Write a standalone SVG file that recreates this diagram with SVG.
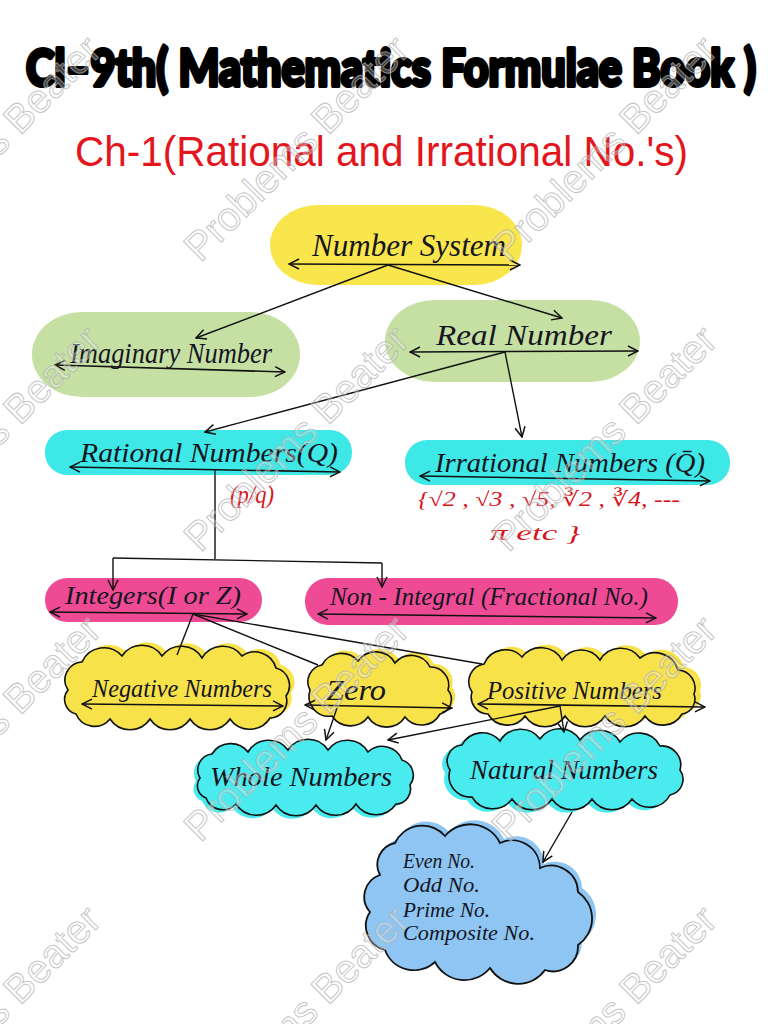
<svg xmlns="http://www.w3.org/2000/svg" xmlns:xlink="http://www.w3.org/1999/xlink" width="768" height="1024" viewBox="0 0 768 1024">
<style>
.hw{font-family:"Liberation Serif","DejaVu Serif",serif;font-style:italic;fill:#15151f;}
.red{font-family:"Liberation Serif","DejaVu Serif",serif;font-style:italic;fill:#d8141c;}
.ul{stroke:#111;stroke-width:1.6;fill:none;marker-start:url(#ah);marker-end:url(#ah);}
.con{stroke:#111;stroke-width:1.4;fill:none;}
.arr{marker-end:url(#ah);}
.cy{fill:#f8e24a;stroke:#111;stroke-width:1.6;}
.cybg{fill:#f8e24a;}
.cc{fill:#4aebee;stroke:#111;stroke-width:1.6;}
.ccbg{fill:#4aebee;}
.cb{fill:#8ec5f3;stroke:#111;stroke-width:1.8;}
.cbbg{fill:#8ec5f3;}
.wm{font-family:"Liberation Sans",Arial,sans-serif;font-size:40px;fill:#ffffff;fill-opacity:0.35;stroke:#b4b4b4;stroke-width:1;text-anchor:middle;opacity:0.75;}
</style>
<defs>
<marker id="ah" viewBox="0 0 12 12" refX="11" refY="6" markerWidth="12" markerHeight="12" markerUnits="userSpaceOnUse" orient="auto-start-reverse">
<path d="M1,1 L11,6 L1,11" fill="none" stroke="#111" stroke-width="1.5"/>
</marker>
<path id="c-neg" d="M 68 690 A 18 18 0 0 1 82 662 A 24 24 0 0 1 122 656 A 24 24 0 0 1 162 656 A 24 24 0 0 1 202 658 A 24 24 0 0 1 242 656 A 22 22 0 0 1 276 668 A 18 18 0 0 1 286 696 A 17 17 0 0 1 270 718 A 24 24 0 0 1 230 719 A 24 24 0 0 1 190 719 A 24 24 0 0 1 150 719 A 24 24 0 0 1 110 719 A 20 20 0 0 1 76 714 A 15 15 0 0 1 68 690 Z"/>
<path id="c-zero" d="M 310 690 A 17 17 0 0 1 322 665 A 22 22 0 0 1 358 661 A 22 22 0 0 1 395 663 A 21 21 0 0 1 430 667 A 18 18 0 0 1 448 690 A 15 15 0 0 1 440 714 A 21 21 0 0 1 405 717 A 22 22 0 0 1 368 717 A 22 22 0 0 1 332 716 A 20 20 0 0 1 310 690 Z"/>
<path id="c-pos" d="M 472 692 A 18 18 0 0 1 484 664 A 23 23 0 0 1 522 657 A 24 24 0 0 1 562 660 A 23 23 0 0 1 600 660 A 24 24 0 0 1 640 658 A 24 24 0 0 1 678 670 A 18 18 0 0 1 694 694 A 15 15 0 0 1 682 714 A 22 22 0 0 1 645 716 A 24 24 0 0 1 605 716 A 24 24 0 0 1 565 716 A 24 24 0 0 1 525 716 A 22 22 0 0 1 488 714 A 17 17 0 0 1 472 692 Z"/>
<path id="c-whole" d="M 200 778 A 16 16 0 0 1 212 754 A 22 22 0 0 1 248 752 A 24 24 0 0 1 288 750 A 24 24 0 0 1 328 750 A 24 24 0 0 1 368 752 A 21 21 0 0 1 402 760 A 16 16 0 0 1 410 785 A 15 15 0 0 1 396 804 A 24 24 0 0 1 356 804 A 24 24 0 0 1 316 805 A 24 24 0 0 1 276 805 A 24 24 0 0 1 236 804 A 18 18 0 0 1 206 798 A 13 13 0 0 1 200 778 Z"/>
<path id="c-nat" d="M 450 770 A 16 16 0 0 1 462 745 A 23 23 0 0 1 500 741 A 24 24 0 0 1 540 739 A 24 24 0 0 1 580 740 A 24 24 0 0 1 620 742 A 24 24 0 0 1 660 746 A 19 19 0 0 1 680 770 A 16 16 0 0 1 670 795 A 23 23 0 0 1 632 799 A 24 24 0 0 1 592 799 A 24 24 0 0 1 552 799 A 24 24 0 0 1 512 799 A 24 24 0 0 1 472 797 A 21 21 0 0 1 450 770 Z"/>
<path id="c-blue" d="M 380 875 A 22 22 0 0 1 395 843 A 30 30 0 0 1 445 836 A 33 33 0 0 1 500 843 A 28 28 0 0 1 540 868 A 27 27 0 0 1 578 892 A 32 32 0 0 1 578 945 A 25 25 0 0 1 545 970 A 33 33 0 0 1 490 968 A 33 33 0 0 1 435 962 A 31 31 0 0 1 385 950 A 25 25 0 0 1 370 912 A 23 23 0 0 1 380 875 Z"/>
</defs>
<rect width="768" height="1024" fill="#ffffff"/>

<g id="title">
<text x="26" y="86" textLength="730" lengthAdjust="spacingAndGlyphs" font-family="Lato,'DejaVu Sans',sans-serif" font-weight="900" font-size="52" fill="#000" stroke="#000" stroke-width="4" stroke-linejoin="round">Cl–9th( Mathematics Formulae Book )</text>
</g>
<g id="subtitle">
<text x="75" y="166" textLength="613" lengthAdjust="spacingAndGlyphs" font-family="'Liberation Sans',Arial,sans-serif" font-size="42" fill="#e3161d">Ch-1(Rational and Irrational No.'s)</text>
</g>

<g id="n-number-system">
<rect x="270" y="205" width="252" height="80" rx="48" ry="40" fill="#f9e54c"/>
<text class="hw" x="312" y="256" font-size="31" textLength="194" lengthAdjust="spacingAndGlyphs">Number System</text>
<line class="ul" x1="289" y1="264" x2="520" y2="265"/>
</g>

<g id="n-imaginary">
<rect x="32" y="312" width="268" height="85" rx="50" ry="42" fill="#c6e0a4"/>
<text class="hw" x="70" y="363" font-size="30" textLength="202" lengthAdjust="spacingAndGlyphs">Imaginary Number</text>
<line class="ul" x1="55" y1="365" x2="285" y2="372"/>
</g>

<g id="n-real">
<rect x="385" y="300" width="255" height="82" rx="50" ry="41" fill="#c6e0a4"/>
<text class="hw" x="436" y="345" font-size="29" textLength="176" lengthAdjust="spacingAndGlyphs">Real  Number</text>
<line class="ul" x1="410" y1="352" x2="638" y2="351"/>
</g>

<g id="n-rational">
<rect x="45" y="430" width="307" height="45" rx="22" fill="#3ee8e6"/>
<text class="hw" x="80" y="462" font-size="27" textLength="258" lengthAdjust="spacingAndGlyphs">Rational Numbers(Q)</text>
<line class="ul" x1="70" y1="467" x2="340" y2="472"/>
<text class="red" x="230" y="503" font-size="26" textLength="44" lengthAdjust="spacingAndGlyphs">(p/q)</text>
</g>

<g id="n-irrational">
<rect x="405" y="440" width="325" height="45" rx="22" fill="#3ee8e6"/>
<text class="hw" x="435" y="472" font-size="27" textLength="270" lengthAdjust="spacingAndGlyphs">Irrational Numbers (Q̄)</text>
<line class="ul" x1="420" y1="476" x2="710" y2="481"/>
<text class="red" x="418" y="506" font-size="20" textLength="262" lengthAdjust="spacingAndGlyphs">{√2 , √3 , √5, ∛2 , ∛4, ---</text>
<text class="red" x="490" y="540" font-size="20" textLength="90" lengthAdjust="spacingAndGlyphs">π  etc }</text>
</g>

<g id="n-integers">
<rect x="45" y="578" width="217" height="44" rx="22" fill="#ef4b95"/>
<text class="hw" x="65" y="604" font-size="26" textLength="176" lengthAdjust="spacingAndGlyphs">Integers(I or Z)</text>
<line class="ul" x1="50" y1="612" x2="247" y2="614"/>
</g>

<g id="n-nonintegral">
<rect x="305" y="578" width="373" height="47" rx="23" fill="#ef4b95"/>
<text class="hw" x="330" y="605" font-size="25" textLength="318" lengthAdjust="spacingAndGlyphs">Non - Integral (Fractional No.)</text>
<line class="ul" x1="318" y1="614" x2="656" y2="618"/>
</g>

<g id="n-negative">
<use href="#c-neg" xlink:href="#c-neg" class="cybg" transform="translate(5,-3)"/>
<use href="#c-neg" xlink:href="#c-neg" class="cy"/>
<text class="hw" x="92" y="697" font-size="26" textLength="180" lengthAdjust="spacingAndGlyphs">Negative Numbers</text>
<line class="ul" x1="82" y1="704" x2="283" y2="706"/>
</g>

<g id="n-zero">
<use href="#c-zero" xlink:href="#c-zero" class="cybg" transform="translate(4,-3)"/>
<use href="#c-zero" xlink:href="#c-zero" class="cy"/>
<text class="hw" x="326" y="700" font-size="29" textLength="60" lengthAdjust="spacingAndGlyphs">Zero</text>
<line class="ul" x1="305" y1="705" x2="452" y2="708"/>
</g>

<g id="n-positive">
<use href="#c-pos" xlink:href="#c-pos" class="cybg" transform="translate(6,-3)"/>
<use href="#c-pos" xlink:href="#c-pos" class="cy"/>
<text class="hw" x="487" y="699" font-size="26" textLength="175" lengthAdjust="spacingAndGlyphs">Positive Numbers</text>
<line class="ul" x1="478" y1="704" x2="705" y2="707"/>
</g>

<g id="n-whole">
<use href="#c-whole" xlink:href="#c-whole" class="ccbg" transform="translate(-4,3)"/>
<use href="#c-whole" xlink:href="#c-whole" class="cc"/>
<text class="hw" x="210" y="786" font-size="27" textLength="182" lengthAdjust="spacingAndGlyphs">Whole  Numbers</text>
</g>

<g id="n-natural">
<use href="#c-nat" xlink:href="#c-nat" class="ccbg" transform="translate(-5,3)"/>
<use href="#c-nat" xlink:href="#c-nat" class="cc"/>
<text class="hw" x="470" y="779" font-size="27" textLength="188" lengthAdjust="spacingAndGlyphs">Natural  Numbers</text>
</g>

<g id="n-types">
<use href="#c-blue" xlink:href="#c-blue" class="cbbg" transform="translate(4,-4)"/>
<use href="#c-blue" xlink:href="#c-blue" class="cb"/>
<text class="hw" x="403" y="868" font-size="22" textLength="72" lengthAdjust="spacingAndGlyphs">Even  No.</text>
<text class="hw" x="403" y="892" font-size="22" textLength="77" lengthAdjust="spacingAndGlyphs">Odd  No.</text>
<text class="hw" x="403" y="917" font-size="22" textLength="87" lengthAdjust="spacingAndGlyphs">Prime  No.</text>
<text class="hw" x="403" y="940" font-size="22" textLength="132" lengthAdjust="spacingAndGlyphs">Composite No.</text>
</g>

<g id="connectors">
<line class="con arr" x1="388" y1="265" x2="196" y2="338"/>
<line class="con arr" x1="388" y1="265" x2="562" y2="318"/>
<line class="con arr" x1="505" y1="352" x2="205" y2="432"/>
<line class="con arr" x1="505" y1="352" x2="522" y2="437"/>
<line class="con" x1="215" y1="469" x2="215" y2="559"/>
<polyline class="con arr" points="113,558 113,590"/>
<line class="con" x1="113" y1="558" x2="382" y2="563"/>
<polyline class="con arr" points="382,563 382,587"/>
<line class="con" x1="193" y1="614" x2="177" y2="655"/>
<line class="con" x1="193" y1="614" x2="318" y2="665"/>
<line class="con" x1="193" y1="614" x2="482" y2="664"/>
<line class="con arr" x1="337" y1="708" x2="326" y2="740"/>
<line class="con arr" x1="560" y1="706" x2="388" y2="740"/>
<line class="con arr" x1="560" y1="706" x2="564" y2="732"/>
<line class="con arr" x1="572" y1="812" x2="543" y2="862"/>
</g>

<g id="watermarks">
<text class="wm" x="-12" y="162" transform="rotate(-45 -12 148)">Problems Beater</text>
<text class="wm" x="296" y="162" transform="rotate(-45 296 148)">Problems Beater</text>
<text class="wm" x="604" y="162" transform="rotate(-45 604 148)">Problems Beater</text>
<text class="wm" x="-12" y="452" transform="rotate(-45 -12 438)">Problems Beater</text>
<text class="wm" x="296" y="452" transform="rotate(-45 296 438)">Problems Beater</text>
<text class="wm" x="604" y="452" transform="rotate(-45 604 438)">Problems Beater</text>
<text class="wm" x="-12" y="742" transform="rotate(-45 -12 728)">Problems Beater</text>
<text class="wm" x="296" y="742" transform="rotate(-45 296 728)">Problems Beater</text>
<text class="wm" x="604" y="742" transform="rotate(-45 604 728)">Problems Beater</text>
<text class="wm" x="-12" y="1032" transform="rotate(-45 -12 1018)">Problems Beater</text>
<text class="wm" x="296" y="1032" transform="rotate(-45 296 1018)">Problems Beater</text>
<text class="wm" x="604" y="1032" transform="rotate(-45 604 1018)">Problems Beater</text>
</g>
</svg>
